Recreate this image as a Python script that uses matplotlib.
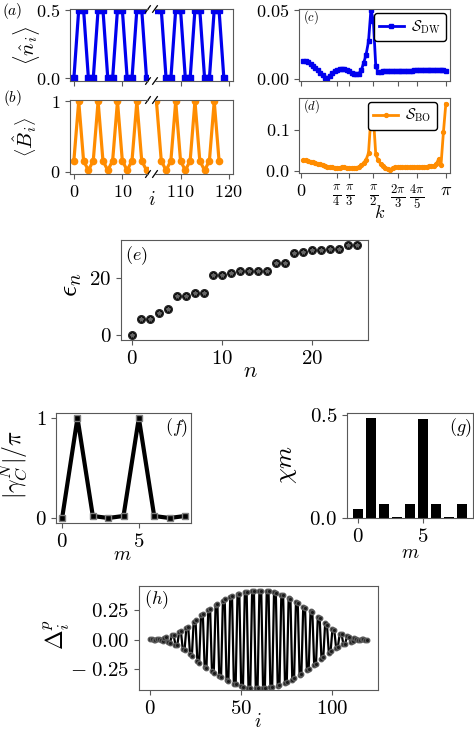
import numpy as np
import matplotlib
matplotlib.use("Agg")
import matplotlib.pyplot as plt

plt.rcParams['font.family'] = 'serif'
plt.rcParams['font.serif'] = ['cmr10']
plt.rcParams['mathtext.fontset'] = 'cm'
plt.rcParams['axes.formatter.use_mathtext'] = True
plt.rcParams['axes.edgecolor'] = '0.35'
plt.rcParams['xtick.color'] = '0.35'
plt.rcParams['ytick.color'] = '0.35'
plt.rcParams['xtick.labelcolor'] = 'black'
plt.rcParams['ytick.labelcolor'] = 'black'

# ---- data ----
# (a), (b): density and bond order, broken site axis
sites_left = list(range(0, 16))
sites_right = list(range(105, 120))
n_left = [0, .5, .5, 0, 0, .5, .5, 0, 0, .5, .5, 0, 0, .5, .5, 0]
n_right = [.5, .5, 0, 0, .5, .5, 0, 0, .5, .5, 0, 0, .5, .5, 0]
bonds_left = list(range(0, 16))
bonds_right = list(range(105, 119))
B_left = [0.16, 1, 0.16, 0.02, 0.16, 1, 0.16, 0.02, 0.16, 1, 0.16, 0.02, 0.16, 1, 0.16, 0.02]
B_right = [1, 0.16, 0.02, 0.16, 1, 0.16, 0.02, 0.16, 1, 0.16, 0.02, 0.16, 1, 0.16]

# (c), (d): structure factors
k_vals = np.arange(1, 61) * np.pi / 60
S_DW = [0.0127, 0.0125, 0.0118, 0.0106, 0.0094, 0.0077, 0.0060, 0.0041, 0.0022, 0.0005,
        0.0002, 0.0020, 0.0040, 0.0055, 0.0065, 0.0070, 0.0070, 0.0068, 0.0060, 0.0053,
        0.0043, 0.0036, 0.0034, 0.0036, 0.0060, 0.0113, 0.0174, 0.0270, 0.0500, 0.0420,
        0.0090, 0.0045, 0.0048, 0.0052, 0.0053, 0.0052, 0.0054, 0.0055, 0.0054, 0.0055,
        0.0056, 0.0055, 0.0057, 0.0058, 0.0057, 0.0058, 0.0060, 0.0059, 0.0060, 0.0061,
        0.0060, 0.0062, 0.0061, 0.0062, 0.0060, 0.0061, 0.0062, 0.0060, 0.0059, 0.0058]
S_BO = [0.025, 0.025, 0.024, 0.022, 0.021, 0.019, 0.017, 0.015, 0.013, 0.011,
        0.0095, 0.0085, 0.008, 0.0075, 0.0075, 0.0075, 0.0078, 0.008, 0.0075, 0.007,
        0.0065, 0.0065, 0.007, 0.009, 0.013, 0.019, 0.027, 0.043, 0.133, 0.133,
        0.040, 0.025, 0.017, 0.012, 0.007, 0.003, 0.002, 0.007, 0.008, 0.008,
        0.0082, 0.008, 0.0083, 0.0085, 0.0084, 0.0086, 0.0088, 0.009, 0.0092, 0.0095,
        0.0098, 0.010, 0.0105, 0.011, 0.012, 0.016, 0.028, 0.014, 0.095, 0.165]
k_ticks = [0, np.pi / 4, np.pi / 3, np.pi / 2, 2 * np.pi / 3, 4 * np.pi / 5, np.pi]
k_ticklabels = [r'$0$', r'$\frac{\pi}{4}$', r'$\frac{\pi}{3}$', r'$\frac{\pi}{2}$',
                r'$\frac{2\pi}{3}$', r'$\frac{4\pi}{5}$', r'$\pi$']

# (e): entanglement spectrum
levels = list(range(26))
eps = [0, 5.8, 5.8, 7.8, 9.4, 13.7, 13.7, 14.8, 15.0, 21.3, 21.3, 22.0, 22.6,
       22.6, 22.6, 22.7, 25.3, 25.3, 29.1, 29.3, 30.0, 30.0, 30.2, 30.5, 31.6, 31.9]

# (f), (g): Berry phase and chi
m_vals = list(range(9))
gamma = [0, 1, 0.02, 0, 0.02, 1, 0.02, 0, 0.02]
chi = [0.045, 0.485, 0.07, 0.005, 0.07, 0.48, 0.07, 0.005, 0.07]

# (h): pairing profile
sites_h = list(range(120))
delta_p = [0.005, 0.005, -0.005, -0.005, 0.005, 0.005, -0.008, -0.01,
           0.015, 0.02, -0.025, -0.03, 0.035, 0.04, -0.045, -0.05,
           0.06, 0.07, -0.08, -0.09, 0.10, 0.11, -0.125, -0.14,
           0.15, 0.165, -0.18, -0.195, 0.21, 0.22, -0.23, -0.24,
           0.25, 0.26, -0.27, -0.28, 0.29, 0.30, -0.31, -0.32,
           0.33, 0.34, -0.345, -0.355, 0.36, 0.37, -0.375, -0.38,
           0.385, 0.39, -0.395, -0.40, 0.40, 0.405, -0.41, -0.41,
           0.41, 0.415, -0.415, -0.415, 0.415, 0.415, -0.415, -0.41,
           0.41, 0.41, -0.405, -0.40, 0.40, 0.395, -0.39, -0.385,
           0.38, 0.375, -0.37, -0.36, 0.355, 0.345, -0.34, -0.33,
           0.32, 0.31, -0.30, -0.29, 0.28, 0.27, -0.26, -0.25,
           0.24, 0.23, -0.22, -0.21, 0.195, 0.18, -0.165, -0.15,
           0.14, 0.125, -0.11, -0.10, 0.09, 0.08, -0.07, -0.06,
           0.05, 0.045, -0.04, -0.035, 0.03, 0.025, -0.02, -0.015,
           0.01, 0.008, -0.005, -0.005, 0.005, 0.005, -0.005, -0.005]

W, H = 474, 732
fig = plt.figure(figsize=(W / 100, H / 100), dpi=100)


def box(x0, y0, x1, y1):
    return [x0 / W, 1 - y1 / H, (x1 - x0) / W, (y1 - y0) / H]


def label(x, y, s, size, rot=0):
    fig.text(x / W, 1 - y / H, s, fontsize=size, rotation=rot, ha='center', va='center')


def broken(axl, axr):
    axl.spines['right'].set_visible(False)
    axr.spines['left'].set_visible(False)
    axr.tick_params(axis='y', left=False, labelleft=False)
    d = 0.03
    kw = dict(color='k', lw=0.9, clip_on=False)
    for yy in (0, 1):
        axl.plot([1 - d, 1 + d], [yy - 1.5 * d, yy + 1.5 * d], transform=axl.transAxes, **kw)
        axr.plot([-d, d], [yy - 1.5 * d, yy + 1.5 * d], transform=axr.transAxes, **kw)


blue = '#0000ee'
orange = '#ff8c00'

# (a)
axA1 = fig.add_axes(box(70, 9, 148, 81))
axA2 = fig.add_axes(box(155, 9, 233, 81))
for ax, x, y in ((axA1, sites_left, n_left), (axA2, sites_right, n_right)):
    ax.plot(x, y, '-s', color=blue, lw=2.3, ms=4.8)
    ax.set_ylim(-0.02, 0.505)
    ax.set_yticks([0, 0.5])
    ax.tick_params(labelsize=13, labelbottom=False)
axA1.set_xlim(-0.8, 15.3)
axA2.set_xlim(104.7, 120.9)
axA1.set_xticks([0, 10])
axA2.set_xticks([110, 120])
broken(axA1, axA2)

# (b)
axB1 = fig.add_axes(box(70, 100, 148, 174))
axB2 = fig.add_axes(box(155, 100, 233, 174))
for ax, x, y in ((axB1, bonds_left, B_left), (axB2, bonds_right, B_right)):
    ax.plot(x, y, '-o', color=orange, lw=2.3, ms=4.5)
    ax.set_ylim(-0.03, 1.02)
    ax.set_yticks([0, 1])
    ax.tick_params(labelsize=13)
axB1.set_xlim(-0.8, 15.3)
axB2.set_xlim(104.7, 120.9)
axB1.set_xticks([0, 10])
axB2.set_xticks([110, 120])
broken(axB1, axB2)

leg_kw = dict(loc='upper right', fontsize=10.5, frameon=True, edgecolor='k', handlelength=1.7,
              handletextpad=0.5, borderpad=0.35, borderaxespad=0.3, framealpha=1, fancybox=True)

# (c)
axC = fig.add_axes(box(299, 9, 450, 81))
axC.plot(k_vals, S_DW, '-s', color=blue, lw=2, ms=2.8, label=r'$\mathcal{S}_{\mathrm{DW}}$')
axC.set_ylim(-0.0018, 0.0505)
axC.set_yticks([0, 0.05])
axC.set_xlim(-0.04, np.pi + 0.09)
axC.set_xticks(k_ticks)
axC.tick_params(labelsize=13, labelbottom=False)
axC.legend(**leg_kw)

# (d)
axD = fig.add_axes(box(299, 97.5, 450, 173))
axD.plot(k_vals, S_BO, '-o', color=orange, lw=2, ms=2.8, label=r'$\mathcal{S}_{\mathrm{BO}}$')
axD.set_ylim(-0.006, 0.18)
axD.set_yticks([0, 0.1])
axD.set_xlim(-0.04, np.pi + 0.09)
axD.set_xticks(k_ticks)
axD.set_xticklabels(k_ticklabels)
axD.tick_params(labelsize=13)
axD.legend(bbox_to_anchor=(0.94, 1.0), **leg_kw)

# (e)
axE = fig.add_axes(box(121, 240, 368, 340))
axE.plot(levels, eps, 'o', color='k', ms=5.5, mec='0.15')
axE.plot(levels, eps, '*', color='0.4', ms=3)
axE.set_xticks([0, 10, 20])
axE.set_yticks([0, 20])
axE.tick_params(labelsize=15)

# (f)
axF = fig.add_axes(box(56, 413, 191, 523))
axF.plot(m_vals, gamma, '-s', color='k', lw=3, ms=5, mfc='k', mec='0.5')
axF.set_xticks([0, 5])
axF.set_yticks([0, 1])
axF.tick_params(labelsize=15)

# (g)
axG = fig.add_axes(box(347, 413, 473, 518))
axG.bar(m_vals, chi, width=0.8, color='k')
axG.set_xticks([0, 5])
axG.set_yticks([0, 0.5])
axG.tick_params(labelsize=15)

# (h)
axH = fig.add_axes(box(139, 586, 378, 690))
axH.plot(sites_h, delta_p, '-o', color='k', lw=1.6, ms=3.2, mfc='0.1', mec='0.35')
axH.set_ylim(-0.428, 0.454)
axH.set_xticks([0, 50, 100])
axH.set_yticks([-0.25, 0, 0.25])
axH.set_yticklabels([r'$-\;0.25$', r'$0.00$', r'$0.25$'])
axH.tick_params(labelsize=15)

# labels
label(12, 11, r'$(a)$', 11)
label(12, 98, r'$(b)$', 11)
label(311, 17, r'$(c)$', 9)
label(311, 106, r'$(d)$', 9)
label(136, 256, r'$(e)$', 13)
label(177, 428, r'$(f)$', 13)
label(460, 428, r'$(g)$', 13)
label(156, 600, r'$(h)$', 13)

label(26, 45, r'$\langle \hat{n}_i \rangle$', 15, 90)
label(25, 137, r'$\left\langle \hat{B}_i \right\rangle$', 15, 90)
label(152, 200, r'$i$', 14)
label(380, 213, r'$k$', 13)
label(71, 285, r'$\epsilon_n$', 20, 90)
label(250, 371, r'$n$', 16)
label(14, 465, r'$|\gamma_C^N|/\pi$', 17, 90)
label(122, 555, r'$m$', 14)
label(288, 465, r'$\chi m$', 18, 90)
label(410, 553, r'$m$', 14)
label(57, 635, r'$\Delta_i^p$', 17, 90)
label(258, 722, r'$i$', 14)

fig.savefig('out.png', dpi=100)
